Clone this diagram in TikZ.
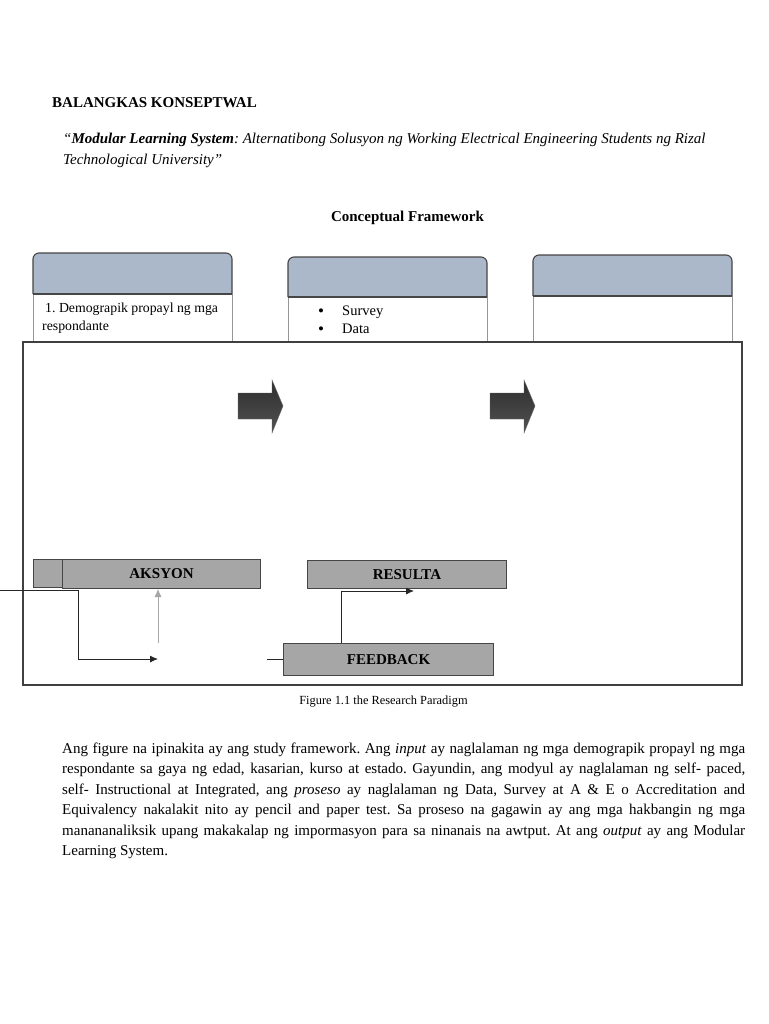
\documentclass[tikz,border=0pt]{standalone}
\usepackage{fontspec}
\setmainfont{Liberation Serif}
\usetikzlibrary{arrows.meta}
\frenchspacing
\definecolor{hdr}{RGB}{171,184,201}
\definecolor{boxgray}{RGB}{166,166,166}
\definecolor{bord}{RGB}{70,70,70}
\definecolor{sideg}{RGB}{150,150,150}
\tikzset{
  txt/.style={inner sep=0pt, anchor=base west, font=\fontsize{15}{20.5}\selectfont},
  graybox/.style={draw=bord, line width=1pt, fill=boxgray, inner sep=0pt, font=\fontsize{15}{18}\selectfont\bfseries},
  conn/.style={draw=black!85, line width=0.9pt},
  tip/.style={-{Latex[length=8pt,width=7pt]}},
  blockarrow/.style={draw=black!60, line width=0.4pt, top color=black!82, bottom color=black!68},
}
\begin{document}
\begin{tikzpicture}[x=1pt,y=-1pt]
\useasboundingbox (0,0) rectangle (768,1024);
\fill[white] (0,0) rectangle (768,1024);

% headings
\node[txt, font=\fontsize{15}{18}\selectfont\bfseries] (head) at (52,108) {BALANGKAS KONSEPTWAL};
\node[txt, font=\fontsize{15}{18}\selectfont\itshape] (title1) at (63,144) {``\textbf{Modular Learning System}: Alternatibong Solusyon ng Working Electrical Engineering Students ng Rizal};
\node[txt, font=\fontsize{15}{18}\selectfont\itshape] (title2) at (63,165) {Technological University''};
\node[inner sep=0pt, anchor=base, font=\fontsize{15}{18}\selectfont\bfseries] (cf) at (407.5,222) {Conceptual Framework};

% column boxes: bodies
\foreach \l/\r/\t in {33/232/294, 288/487/297, 533/732/296}{
  \fill[white] (\l,\t) rectangle (\r,342);
  \draw[sideg, line width=0.8pt] (\l,\t) -- (\l,342) (\r,\t) -- (\r,342);
}
% headers
\foreach \l/\r/\top/\b in {33/232/253/294, 288/487/257/297, 533/732/255/296}{
  \fill[hdr, rounded corners=6pt] (\l,\b) -- (\l,\top) -- (\r,\top) -- (\r,\b);
  \draw[bord, line width=1.1pt, rounded corners=6pt] (\l,\b) -- (\l,\top) -- (\r,\top) -- (\r,\b);
  \draw[bord, line width=1.1pt] (\l,\b) -- (\r,\b);
}
\node[txt, font=\fontsize{13.8}{18}\selectfont] (in1) at (45,312) {1. Demograpik propayl ng mga};
\node[txt, font=\fontsize{13.8}{18}\selectfont] (in2) at (42,330) {respondante};
\node[txt, font=\fontsize{17}{18}\selectfont] (b1) at (318,316) {\textbullet};
\node[txt, font=\fontsize{14.5}{18}\selectfont] (pr1) at (342,315) {Survey};
\node[txt, font=\fontsize{17}{18}\selectfont] (b2) at (318,334) {\textbullet};
\node[txt, font=\fontsize{14.5}{18}\selectfont] (pr2) at (342,333) {Data};

% big frame
\draw[draw=black!75, line width=1.3pt, fill=white] (23,342) rectangle (742,685);

% block arrows
\foreach \x in {238,490}{
  \path[blockarrow] (\x,393) -- (\x+34,393) -- (\x+34,380) -- (\x+45,406) -- (\x+34,433) -- (\x+34,419) -- (\x,419) -- cycle;
}

% gray boxes
\draw[draw=bord, line width=1pt, fill=boxgray] (33,559) rectangle (232,587);
\node[graybox, minimum width=198pt, minimum height=29pt, anchor=north west] (aksyon) at (62,559) {AKSYON};
\node[graybox, minimum width=199pt, minimum height=28pt, anchor=north west] (resulta) at (307,560) {RESULTA};
\node[graybox, minimum width=210pt, minimum height=32pt, anchor=north west] (feedback) at (283,643) {FEEDBACK};

% connectors
\coordinate (l0) at (0,590);
\coordinate (l1) at (78,590);
\coordinate (l2) at (78,659);
\coordinate (l3) at (158,659);
\draw[conn, tip] (l0) -- (l1) -- (l2) -- (l3);
\coordinate (v0) at (158,643);
\draw[draw=black!35, line width=0.8pt, tip] (v0) -- (v0 |- aksyon.south);
\coordinate (f0) at (267,659);
\draw[conn] (f0) -- (f0 -| feedback.west);
\coordinate (r1) at (341,591);
\coordinate (r2) at (414,591);
\draw[conn, tip] (r1 |- feedback.north) -- (r1) -- (r2);

% caption
\node[inner sep=0pt, anchor=base, font=\fontsize{12.4}{15}\selectfont] (cap) at (383.5,704) {Figure 1.1 the Research Paradigm};

% paragraph
\node[txt] (p1) at (62,753) {\hbox to 683pt{Ang figure na ipinakita ay ang study framework. Ang \textit{input} ay naglalaman ng mga demograpik propayl ng mga}};
\node[txt] (p2) at (62,773.5) {\hbox to 683pt{respondante sa gaya ng edad, kasarian, kurso at estado. Gayundin, ang modyul ay naglalaman ng self- paced,}};
\node[txt] (p3) at (62,794) {\hbox to 683pt{self- Instructional at Integrated, ang \textit{proseso} ay naglalaman ng Data, Survey at A \& E o Accreditation and}};
\node[txt] (p4) at (62,814.5) {\hbox to 683pt{Equivalency nakalakit nito ay pencil and paper test. Sa proseso na gagawin ay ang mga hakbangin ng mga}};
\node[txt] (p5) at (62,835) {\hbox to 683pt{manananaliksik upang makakalap ng impormasyon para sa ninanais na awtput. At ang \textit{output} ay ang Modular}};
\node[txt] (p6) at (62,855.5) {Learning System.};
\end{tikzpicture}
\end{document}
